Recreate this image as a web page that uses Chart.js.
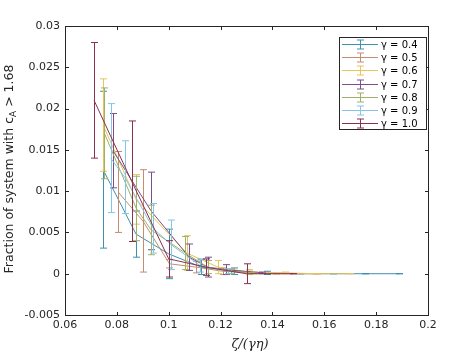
<!DOCTYPE html>
<html><head><meta charset="utf-8">
<script src="https://cdn.jsdelivr.net/npm/chart.js@4/dist/chart.umd.min.js"></script>
<style>html,body{margin:0;padding:0;background:#fff}</style>
</head><body>
<canvas id="c" width="474" height="355" style="width:474px;height:355px;display:block"></canvas>
<script>
// ---- data ----
const gammaLabels = ['\u03b3 = 0.4','\u03b3 = 0.5','\u03b3 = 0.6','\u03b3 = 0.7','\u03b3 = 0.8','\u03b3 = 0.9','\u03b3 = 1.0'];

const x04 = [0.0747, 0.0874, 0.1000, 0.1126, 0.1253, 0.1379, 0.1505, 0.1632, 0.1758, 0.1890];
const y04 = [0.0126, 0.0048, 0.0024, 0.0008, 0.0003, 0.0001, 0, 0, 0, 0];
const e04 = [0.0095, 0.0028, 0.0030, 0.0009, 0.0004, 0.0002, 0, 0, 0, 0];

const x05 = [0.0805, 0.0900, 0.1003, 0.1105, 0.1208, 0.1310, 0.1413, 0.1570];
const y05 = [0.0099, 0.0064, 0.0012, 0.0008, 0.0003, 0.0001, 0, 0];
const e05 = [0.0049, 0.0062, 0.0005, 0.0007, 0.0004, 0.0002, 0, 0];

const x06 = [0.0747, 0.0874, 0.1070, 0.1190, 0.1310, 0.1450, 0.1570, 0.1700];
const y06 = [0.0180, 0.0090, 0.0025, 0.0008, 0.0002, 0.0001, 0, 0];
const e06 = [0.0056, 0.0030, 0.0021, 0.0008, 0.0003, 0.0001, 0, 0];

const x07 = [0.0785, 0.0932, 0.1079, 0.1150, 0.1220, 0.1360];
const y07 = [0.0149, 0.0076, 0.0020, 0.0008, 0.0005, 0.0001];
const e07 = [0.0045, 0.0047, 0.0016, 0.0012, 0.0006, 0.0001];

const x08 = [0.0752, 0.0875, 0.0932, 0.1064, 0.1150, 0.1240, 0.1330];
const y08 = [0.0170, 0.0079, 0.0053, 0.0025, 0.0008, 0.0003, 0.0001];
const e08 = [0.0055, 0.0039, 0.0030, 0.0020, 0.0008, 0.0003, 0.0001];

const x09 = [0.0776, 0.0830, 0.0940, 0.1010, 0.1120, 0.1230];
const y09 = [0.0140, 0.0117, 0.0055, 0.0035, 0.0010, 0.0003];
const e09 = [0.0066, 0.0044, 0.0030, 0.0030, 0.0008, 0.0003];

const x10 = [0.0712, 0.0857, 0.1000, 0.1143, 0.1300, 0.1480];
const y10 = [0.0210, 0.0112, 0.0018, 0.0008, 0.0000, 0];
const e10 = [0.0070, 0.0073, 0.0022, 0.0010, 0.0012, 0];

const xTicks = [0.06, 0.08, 0.10, 0.12, 0.14, 0.16, 0.18, 0.20];
const xTickLabels = ['0.06','0.08','0.1','0.12','0.14','0.16','0.18','0.2'];
const yTicks = [-0.005, 0, 0.005, 0.01, 0.015, 0.02, 0.025, 0.03];
const yTickLabels = ['-0.005','0','0.005','0.01','0.015','0.02','0.025','0.03'];

const seriesColors = ['#3f8fb0','#c58c6e','#e6c45e','#7b4d8a','#9fb166','#82c6e2','#8a3050'];

const xSeries = [x04, x05, x06, x07, x08, x09, x10];
const ySeries = [y04, y05, y06, y07, y08, y09, y10];
const eSeries = [e04, e05, e06, e07, e08, e09, e10];

const FONT = "'DejaVu Sans', sans-serif";
const AXC = '#262626';

const datasets = gammaLabels.map((lab, i) => ({
  label: lab,
  data: xSeries[i].map((x, j) => ({x: x, y: ySeries[i][j]})),
  errs: eSeries[i],
  borderColor: seriesColors[i],
  backgroundColor: seriesColors[i],
  borderWidth: 1,
  pointRadius: 0,
  tension: 0,
  fill: false,
  order: gammaLabels.length - i
}));

const errorBars = {
  id: 'errorBars',
  afterDatasetDraw(chart, args) {
    const ds = chart.data.datasets[args.index];
    const xs = chart.scales.x, ys = chart.scales.y;
    const ctx = chart.ctx;
    ctx.save();
    ctx.strokeStyle = ds.borderColor;
    ctx.lineWidth = 1;
    ds.data.forEach((p, j) => {
      const e = ds.errs[j];
      const px = Math.round(xs.getPixelForValue(p.x)) + 0.5;
      const t = ys.getPixelForValue(p.y + e);
      const b = ys.getPixelForValue(p.y - e);
      ctx.beginPath();
      ctx.moveTo(px, t); ctx.lineTo(px, b);
      ctx.moveTo(px - 3.5, t); ctx.lineTo(px + 3.5, t);
      ctx.moveTo(px - 3.5, b); ctx.lineTo(px + 3.5, b);
      ctx.stroke();
    });
    ctx.restore();
  }
};

const boxAndExtras = {
  id: 'boxAndExtras',
  afterDraw(chart) {
    const ctx = chart.ctx;
    const a = chart.chartArea;
    const xs = chart.scales.x, ys = chart.scales.y;
    const L = Math.round(a.left) + 0.5, R = Math.round(a.right) + 0.5;
    const T = Math.round(a.top) + 0.5, B = Math.round(a.bottom) + 0.5;
    ctx.save();
    ctx.strokeStyle = AXC; ctx.lineWidth = 1;
    ctx.strokeRect(L, T, R - L, B - T);
    ctx.beginPath();
    xTicks.forEach(v => {
      const px = Math.round(xs.getPixelForValue(v)) + 0.5;
      ctx.moveTo(px, B); ctx.lineTo(px, B - 3.5);
      ctx.moveTo(px, T); ctx.lineTo(px, T + 3.5);
    });
    yTicks.forEach(v => {
      const py = Math.round(ys.getPixelForValue(v)) + 0.5;
      ctx.moveTo(L, py); ctx.lineTo(L + 3.5, py);
      ctx.moveTo(R, py); ctx.lineTo(R - 3.5, py);
    });
    ctx.stroke();

    // legend
    const lx0 = 339.5, ly0 = 37.5, lw = 87, lh = 92;
    ctx.fillStyle = '#fff';
    ctx.fillRect(lx0, ly0, lw, lh);
    ctx.strokeStyle = AXC;
    ctx.strokeRect(lx0, ly0, lw, lh);
    ctx.font = '10px ' + FONT;
    ctx.textBaseline = 'middle';
    ctx.textAlign = 'left';
    gammaLabels.forEach((lab, i) => {
      const y = Math.round(44 + i * 13.2) + 0.5;
      ctx.strokeStyle = seriesColors[i];
      ctx.beginPath();
      ctx.moveTo(342, y); ctx.lineTo(378, y);
      ctx.moveTo(360.5, y - 4.5); ctx.lineTo(360.5, y + 4.5);
      ctx.moveTo(357, y - 4.5); ctx.lineTo(364, y - 4.5);
      ctx.moveTo(357, y + 4.5); ctx.lineTo(364, y + 4.5);
      ctx.stroke();
      ctx.fillStyle = '#000';
      ctx.fillText(lab, 381, y + 0.5);
    });

    // x title
    ctx.fillStyle = AXC;
    ctx.textAlign = 'center';
    ctx.textBaseline = 'middle';
    ctx.font = "italic 13px 'DejaVu Serif', serif";
    ctx.fillText('\u03b6/(\u03b3\u03b7)', 250, 345);

    // y title with subscript
    const p1 = 'Fraction of system with c', sub = 'A', p2 = ' > 1.68';
    const fs = 12.5, fsub = 9;
    ctx.font = fs + 'px ' + FONT;
    const w1 = ctx.measureText(p1).width, w3 = ctx.measureText(p2).width;
    ctx.font = fsub + 'px ' + FONT;
    const w2 = ctx.measureText(sub).width;
    const total = w1 + w2 + w3;
    ctx.translate(10, 169);
    ctx.rotate(-Math.PI / 2);
    ctx.textAlign = 'left';
    ctx.textBaseline = 'middle';
    let x = -total / 2;
    ctx.font = fs + 'px ' + FONT;
    ctx.fillText(p1, x, 0); x += w1;
    ctx.font = fsub + 'px ' + FONT;
    ctx.fillText(sub, x, 4); x += w2;
    ctx.font = fs + 'px ' + FONT;
    ctx.fillText(p2, x, 0);
    ctx.restore();
  }
};

new Chart(document.getElementById('c'), {
  type: 'line',
  data: { datasets: datasets },
  options: {
    responsive: false,
    animation: false,
    devicePixelRatio: 1,
    layout: { padding: { top: 26, right: 46, left: 0, bottom: 0 } },
    plugins: { legend: { display: false }, tooltip: { enabled: false } },
    scales: {
      x: {
        type: 'linear', min: 0.06, max: 0.2,
        afterBuildTicks: s => { s.ticks = xTicks.map(v => ({value: v})); },
        afterFit: s => { s.height = 40; },
        ticks: { callback: (v, i) => xTickLabels[i], font: {family: FONT, size: 11}, color: AXC, padding: 4, maxRotation: 0, autoSkip: false },
        grid: { display: false, drawTicks: false },
        border: { display: false }
      },
      y: {
        type: 'linear', min: -0.005, max: 0.03,
        afterBuildTicks: s => { s.ticks = yTicks.map(v => ({value: v})); },
        afterFit: s => { s.width = 65; },
        ticks: { callback: (v, i) => yTickLabels[i], font: {family: FONT, size: 11}, color: AXC, padding: 5, autoSkip: false },
        grid: { display: false, drawTicks: false },
        border: { display: false }
      }
    }
  },
  plugins: [errorBars, boxAndExtras]
});
</script>
</body></html>
